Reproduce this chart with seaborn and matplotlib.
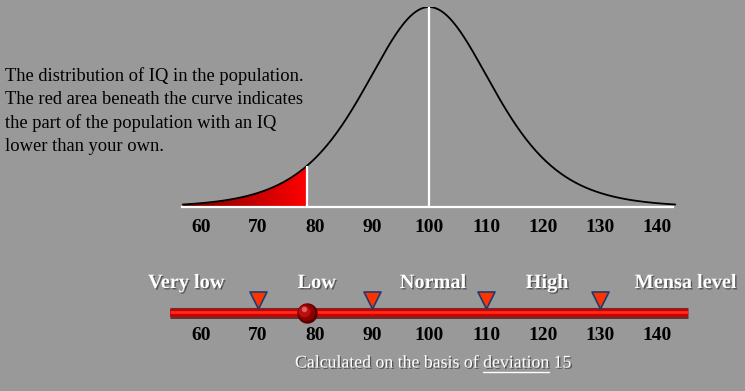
import numpy as np
import pandas as pd
import seaborn as sns
import matplotlib.pyplot as plt
import matplotlib.patheffects as pe
from matplotlib.colors import LinearSegmentedColormap

sns.set_style("white")
plt.rcParams['font.family'] = ['Liberation Serif', 'DejaVu Serif']

# data
mean_iq = 100
deviation = 15
your_iq = 78.6
curve_range = (56.8, 143.2)
tick_values = [60, 70, 80, 90, 100, 110, 120, 130, 140]
band_names = ["Very low", "Low", "Normal", "High", "Mensa level"]
band_label_x = [57.4, 80.3, 100.7, 120.7, 145.0]
band_limits = [70, 90, 110, 130]
slider_range = (54.6, 145.4)
intro = ("The distribution of IQ in the population.\n"
         "The red area beneath the curve indicates\n"
         "the part of the population with an IQ\n"
         "lower than your own.")

bg = '#999999'
W, H = 745, 391
xlim = (100 - 429 / 5.7, 100 + 316 / 5.7)


def density(x):
    # bell curve of the page, scale = deviation
    z = (np.asarray(x) - mean_iq) / deviation
    return 1 / np.cosh(z) ** 2 / (4 * deviation)


iq = np.linspace(curve_range[0], curve_range[1], 400)
df = pd.DataFrame({'iq': iq, 'density': density(iq)})
peak = density(mean_iq)

fig = plt.figure(figsize=(W / 100, H / 100), dpi=100)
fig.patch.set_facecolor(bg)

# ---- distribution panel
ax = fig.add_axes([0, (H - 207) / H, 1, 200 / H])
ax.set_facecolor('none')
ax.set_xlim(*xlim)
ax.set_ylim(0, peak)

low = df[df.iq <= your_iq]
poly = ax.fill_between(low.iq, 0, low.density, color='red', lw=0)
cmap = LinearSegmentedColormap.from_list('reds', ['#780000', '#ff0000'])
grad = ax.imshow(np.linspace(0, 1, 256)[None, :], cmap=cmap, aspect='auto',
                 extent=[curve_range[0], your_iq, 0, peak], zorder=2)
grad.set_clip_path(poly.get_paths()[0], transform=ax.transData)
poly.set_alpha(0)

sns.lineplot(data=df, x='iq', y='density', color='black', lw=1.3, ax=ax, zorder=3)
ax.vlines([mean_iq, your_iq], 0, [peak, density(your_iq)], color='white', lw=1.6, zorder=4)

for s in ['top', 'left', 'right']:
    ax.spines[s].set_visible(False)
ax.spines['bottom'].set_color('white')
ax.spines['bottom'].set_linewidth(1.6)
ax.spines['bottom'].set_bounds(56.6, 142.8)
ax.set_xticks(tick_values)
ax.set_yticks([])
ax.tick_params(axis='x', colors='white', length=5, width=1.2, pad=4,
               labelcolor='black', labelsize=14)
for t in ax.get_xticklabels():
    t.set_fontweight('bold')
ax.set_xlabel('')
ax.set_ylabel('')

fig.text(5 / W, 1 - 67 / H, intro, fontsize=13.3, color='black', va='top',
         ha='left', linespacing=1.46)

# ---- slider panel (y in pixel rows)
bx = fig.add_axes([0, (H - 319) / H, 1, 60 / H])
bx.set_facecolor('none')
bx.set_xlim(*xlim)
bx.set_ylim(319, 259)
for s in bx.spines.values():
    s.set_visible(False)
bx.set_yticks([])
bx.set_xticks(tick_values)
bx.tick_params(axis='x', colors='white', length=4, width=1.2, pad=2,
               labelcolor='black', labelsize=14)
for t in bx.get_xticklabels():
    t.set_fontweight('bold')

bx.plot(slider_range, [313, 313], color='#5e3434', lw=8, solid_capstyle='butt', zorder=2)
bx.plot(slider_range, [313, 313], color='#d00000', lw=5.5, solid_capstyle='butt', zorder=3)
bx.plot(slider_range, [312.3, 312.3], color='#ff2a1a', lw=2, solid_capstyle='butt', zorder=4)

sns.scatterplot(x=band_limits, y=[300] * len(band_limits), marker='v', s=150,
                color='#ff3300', edgecolor='#1d3c6e', linewidth=1.2, ax=bx, zorder=5,
                clip_on=False)
bx.scatter([your_iq], [313], s=215, color='#5a0000', lw=0, zorder=6, clip_on=False)
bx.scatter([your_iq - 0.25], [312], s=150, color='#8e0000', lw=0, zorder=7, clip_on=False)
bx.scatter([your_iq - 0.5], [310.5], s=70, color='#b81010', lw=0, zorder=8, clip_on=False)
bx.scatter([your_iq - 0.6], [309], s=15, color='#e46060', lw=0, zorder=9, clip_on=False)

shadow = [pe.withSimplePatchShadow(offset=(1, -1), shadow_rgbFace='#444444', alpha=0.8)]
for name, x in zip(band_names, band_label_x):
    bx.text(x, 283, name, ha='center', va='center', color='white', fontsize=14.6,
            fontweight='bold', path_effects=shadow, clip_on=False)

ctext = fig.text(295 / W, 1 - 363 / H, "Calculated on the basis of ", color='white',
                 fontsize=12.8, ha='left', va='center', path_effects=shadow)
fig.canvas.draw()
bb = ctext.get_window_extent()
dtext = fig.text(bb.x1 / W, 1 - 363 / H, "deviation", color='white', fontsize=12.8,
                 ha='left', va='center', path_effects=shadow)
fig.canvas.draw()
bb2 = dtext.get_window_extent()
fig.add_artist(plt.Line2D([bb2.x0 / W, bb2.x1 / W], [1 - 372 / H] * 2,
                          color='white', lw=1))
fig.text(bb2.x1 / W, 1 - 363 / H, " 15", color='white', fontsize=12.8,
         ha='left', va='center', path_effects=shadow)

fig.savefig('out.png', dpi=100, facecolor=bg)
